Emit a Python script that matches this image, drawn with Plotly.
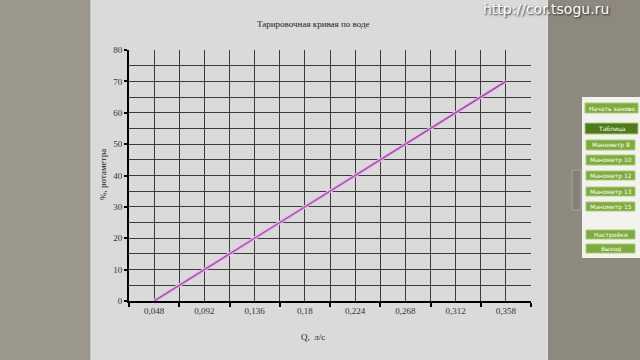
import plotly.graph_objects as go

# ---- data ----
q_labels = ["0,048", "0,092", "0,136", "0,18", "0,224", "0,268", "0,312", "0,358"]
rotameter_pct = [0, 10, 20, 30, 40, 50, 60, 70]

title_text = "Тарировочная кривая по воде"
x_title = "Q,  л/с"
y_title = "%, ротаметра"
buttons = ["Начать заново", "Таблица", "Манометр 8", "Манометр 10",
           "Манометр 12", "Манометр 13", "Манометр 15", "Настройки", "Выход"]
watermark = "http://cor.tsogu.ru"

# ---- geometry helpers (pixel -> paper) ----
W, H = 640, 360
L, R, T, B = 129, 531, 50, 301


def px(x):
    return (x - L) / (R - L)


def py(y):
    return (B - y) / (B - T)


SERIF = "Liberation Serif"

fig = go.Figure()
fig.add_trace(go.Scatter(
    x=q_labels, y=rotameter_pct, mode="lines",
    line=dict(color="#e6b3e9", width=3.5), hoverinfo="skip", showlegend=False))
fig.add_trace(go.Scatter(
    x=q_labels, y=rotameter_pct, mode="lines",
    line=dict(color="#a23aa9", width=1.2), showlegend=False))
# dummy trace for the overlay axis that draws the mid-category grid lines
fig.add_trace(go.Scatter(x=[None], y=[None], xaxis="x2", showlegend=False,
                         hoverinfo="skip"))

shapes = []
# chart panel
shapes.append(dict(type="rect", xref="paper", yref="paper", layer="below",
                   x0=px(91), x1=px(548), y0=py(362), y1=py(-2),
                   fillcolor="#dadada", line=dict(color="#e8e8e8", width=1)))
# right-side darker background
shapes.append(dict(type="rect", xref="paper", yref="paper", layer="below",
                   x0=px(548), x1=px(642), y0=py(362), y1=py(-2),
                   fillcolor="#8d897f", line=dict(width=0)))
# small tab
shapes.append(dict(type="rect", xref="paper", yref="paper", layer="below",
                   x0=px(572), x1=px(581), y0=py(210), y1=py(170),
                   fillcolor="#85817a", line=dict(color="#a9a59c", width=1)))
# button strip
shapes.append(dict(type="rect", xref="paper", yref="paper", layer="below",
                   x0=px(582), x1=px(642), y0=py(258), y1=py(97),
                   fillcolor="#f2f2ee", line=dict(width=0)))

btn_y = [(103, 113), (123, 134), (140, 150), (155, 165), (171, 180),
         (187, 196), (202, 211), (230, 239), (244, 253)]
annotations = []
for i, (label, (y0, y1)) in enumerate(zip(buttons, btn_y)):
    x0, x1 = (585, 638) if i < 2 else (586, 635)
    fill = "#4e7a1c" if label == "Таблица" else "#7dab3c"
    shapes.append(dict(type="rect", xref="paper", yref="paper", layer="below",
                       x0=px(x0), x1=px(x1), y0=py(y1), y1=py(y0),
                       fillcolor=fill, line=dict(color="#a8cc78", width=1)))
    annotations.append(dict(xref="paper", yref="paper",
                            x=px((x0 + x1) / 2), y=py((y0 + y1) / 2),
                            text=label, showarrow=False,
                            font=dict(family="DejaVu Sans", size=6, color="#ffffff"),
                            xanchor="center", yanchor="middle"))

annotations.append(dict(xref="paper", yref="paper", x=px(546), y=py(-1),
                        text=watermark, showarrow=False,
                        xanchor="center", yanchor="top",
                        font=dict(family="DejaVu Sans", size=14, color="#ffffff",
                                  shadow="1px 1px 2px #222222")))
annotations.append(dict(xref="paper", yref="paper", x=px(313), y=py(24),
                        text=title_text, showarrow=False, yanchor="middle",
                        font=dict(family=SERIF, size=9, color="#222222")))
annotations.append(dict(xref="paper", yref="paper", x=px(313), y=py(337),
                        text=x_title, showarrow=False, yanchor="middle",
                        font=dict(family=SERIF, size=9, color="#222222")))
annotations.append(dict(xref="paper", yref="paper", x=px(103), y=py(175),
                        text=y_title, showarrow=False, textangle=-90,
                        xanchor="center", yanchor="middle",
                        font=dict(family=SERIF, size=9, color="#222222")))

grid = "#3c3c3c"
fig.update_layout(
    width=W, height=H,
    margin=dict(l=L, r=W - R, t=T, b=H - B),
    paper_bgcolor="#9c978c",
    plot_bgcolor="#dadada",
    showlegend=False,
    shapes=shapes,
    annotations=annotations,
    xaxis=dict(type="category", range=[-0.5, 7.5], tickson="boundaries",
               showgrid=True, gridcolor=grid, gridwidth=1,
               ticks="outside", ticklen=4, tickwidth=2, tickcolor="#000",
               showline=True, linewidth=2, linecolor="#000",
               tickfont=dict(family=SERIF, size=9, color="#333"),
               fixedrange=True),
    xaxis2=dict(overlaying="x", anchor="y", range=[-0.5, 7.5], tick0=0, dtick=1,
                showgrid=True, gridcolor=grid, gridwidth=1,
                showticklabels=False, ticks="", zeroline=False, showline=False),
    yaxis=dict(range=[0, 80], dtick=10, tick0=0,
               showgrid=True, gridcolor=grid, gridwidth=1,
               minor=dict(dtick=5, showgrid=True, gridcolor=grid, gridwidth=1),
               ticks="outside", ticklen=3, tickwidth=2, tickcolor="#000",
               showline=True, linewidth=2, linecolor="#000", zeroline=False,
               tickfont=dict(family=SERIF, size=9, color="#333")),
)

fig.write_html("out.html")
